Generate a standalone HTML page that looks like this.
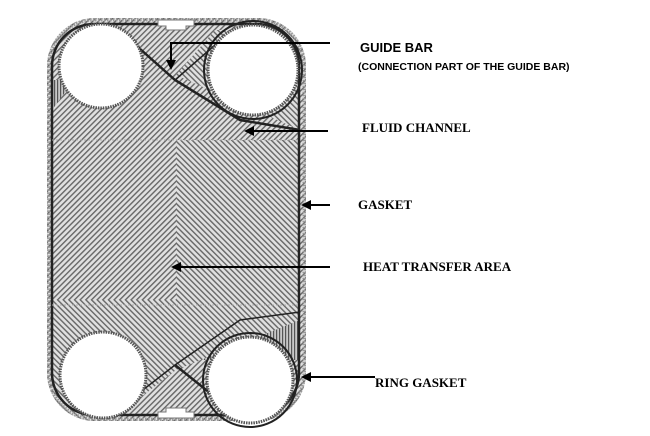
<!DOCTYPE html>
<html><head><meta charset="utf-8"><style>
body{margin:0;background:#fff;width:650px;height:436px;overflow:hidden}
svg{display:block}
.s{font-family:"Liberation Sans",sans-serif;font-weight:bold}
.r{font-family:"Liberation Serif",serif;font-weight:bold}
</style></head><body>
<svg width="650" height="436" viewBox="0 0 650 436" xmlns="http://www.w3.org/2000/svg">
<defs>
<pattern id="pl" width="4" height="4" patternUnits="userSpaceOnUse" patternTransform="rotate(45)">
<rect width="4" height="4" fill="#e0e0e0"/><rect width="1.4" height="4" fill="#666"/></pattern>
<pattern id="pr" width="4" height="4" patternUnits="userSpaceOnUse" patternTransform="rotate(-45)">
<rect width="4" height="4" fill="#e0e0e0"/><rect width="1.4" height="4" fill="#666"/></pattern>
<pattern id="pv" width="3" height="3" patternUnits="userSpaceOnUse">
<rect width="3" height="3" fill="#c8c8c8"/><rect width="1.2" height="3" fill="#555"/></pattern>
<clipPath id="cp"><rect x="47" y="18" width="259" height="403" rx="48"/></clipPath>
</defs>
<g clip-path="url(#cp)">
<rect x="47" y="18" width="259" height="403" fill="url(#pl)"/>
<rect x="52" y="80" width="248" height="60" fill="url(#pv)"/>
<rect x="52" y="300" width="248" height="60" fill="url(#pv)"/>
<rect x="52" y="110" width="124" height="195" fill="url(#pl)"/>
<rect x="176" y="110" width="124" height="195" fill="url(#pr)"/>
<path d="M120 18 L176 75 L300 130 L300 140 L52 140 L52 110 Z" fill="url(#pl)"/>
<path d="M52 300 L300 300 L300 320 L176 370 L110 421 L52 421 Z" fill="url(#pr)"/>
<path d="M176 75 L215 30 L300 30 L300 130 Z" fill="url(#pr)"/>
<path d="M176 370 L230 421 L140 421 Z" fill="url(#pl)"/>
<rect x="47" y="18" width="259" height="403" rx="48" fill="none" stroke="#999" stroke-width="7" stroke-dasharray="1.5 1.5"/>
</g>
<rect x="52" y="24" width="247" height="391" rx="42" fill="none" stroke="#222" stroke-width="2.5"/>
<line x1="52" y1="140" x2="300" y2="140" stroke="#aaa" stroke-dasharray="2 2"/>
<line x1="52" y1="305" x2="300" y2="305" stroke="#aaa" stroke-dasharray="2 2"/>
<path d="M130 40 L175 80 L240 120 L300 130" fill="none" stroke="#222" stroke-width="2.5"/>
<path d="M175 80 L215 45" fill="none" stroke="#222" stroke-width="1.5"/>
<path d="M130 400 L175 365 L240 320 L300 312" fill="none" stroke="#222" stroke-width="1.5"/>
<path d="M175 365 L225 405" fill="none" stroke="#222" stroke-width="2.5"/>
<g fill="none" stroke="#222" stroke-width="2">
<circle cx="253" cy="70" r="49"/>
<circle cx="250" cy="380" r="47"/>
</g>
<g fill="#fff" stroke="#555" stroke-width="3" stroke-dasharray="1.5 1">
<circle cx="101" cy="66" r="42"/>
<circle cx="253" cy="70" r="45"/>
<circle cx="103" cy="375" r="43"/>
<circle cx="250" cy="380" r="43"/>
</g>
<path d="M158 20 H194 V26 H186 V30 H166 V26 H158 Z" fill="#fff" stroke="#777"/>
<path d="M158 418 H194 V412 H186 V408 H166 V412 H158 Z" fill="#fff" stroke="#777"/>
<g stroke="#000" stroke-width="2" fill="none">
<path d="M330 43 L171 43 L171 62"/>
<line x1="328" y1="131" x2="252" y2="131"/>
<line x1="330" y1="205" x2="310" y2="205"/>
<line x1="330" y1="267" x2="180" y2="267"/>
<line x1="375" y1="377" x2="310" y2="377"/>
</g>
<g fill="#000">
<polygon points="166,60 176,60 171,70"/>
<polygon points="244,131 254,126 254,136"/>
<polygon points="301,205 311,200 311,210"/>
<polygon points="171,267 181,262 181,272"/>
<polygon points="301,377 311,372 311,382"/>
</g>
<text class="s" x="360" y="52" font-size="13">GUIDE BAR</text>
<text class="s" x="358" y="70" font-size="10.5">(CONNECTION PART OF THE GUIDE BAR)</text>
<text class="r" x="362" y="132" font-size="13">FLUID CHANNEL</text>
<text class="r" x="358" y="209" font-size="13">GASKET</text>
<text class="r" x="363" y="271" font-size="13">HEAT TRANSFER AREA</text>
<text class="r" x="375" y="387" font-size="13">RING GASKET</text>
</svg>
</body></html>
